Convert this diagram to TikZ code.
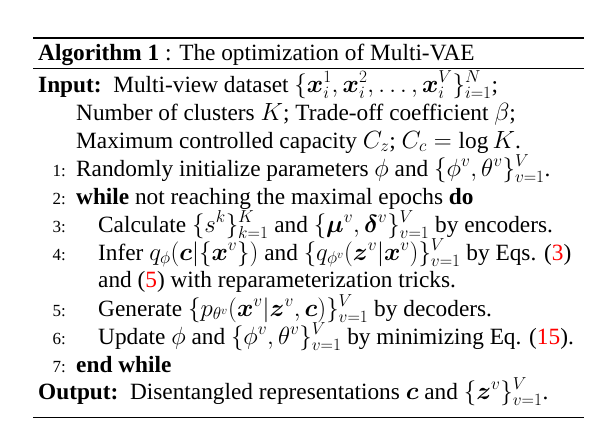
\documentclass[tikz,border=0pt]{standalone}
\usepackage{fontspec}
\usepackage{amsmath,bm}
\setmainfont{Liberation Serif}
\begin{document}
\begin{tikzpicture}[x=1pt,y=-1pt,
  txt/.style={anchor=base west,inner sep=0pt,font=\fontsize{23.3}{27}\selectfont},
  num/.style={anchor=base east,inner sep=0pt,font=\fontsize{17}{19}\selectfont},
  rl/.style={line width=0.9pt}]
\useasboundingbox (0,0) rectangle (614,434);
\coordinate (t1) at (33,38); \coordinate (t2) at (584,38);
\draw[line width=1.2pt] (t1) -- (t2);
\coordinate (m1) at (33,68); \coordinate (m2) at (584,68);
\draw[rl] (m1) -- (m2);
\coordinate (b1) at (33,417); \coordinate (b2) at (584,417);
\draw[rl] (b1) -- (b2);
\node[txt] (title) at (38,60) {\textbf{Algorithm 1} : The optimization of Multi-VAE};
\node[txt] (in1) at (38,92) {\textbf{Input:}\ \ Multi-view dataset $\{\bm{x}_i^1,\bm{x}_i^2,\ldots,\bm{x}_i^V\}_{i=1}^N$;};
\node[txt] (in2) at (76,120) {Number of clusters $K$; Trade-off coefficient $\beta$;};
\node[txt] (in3) at (76,148) {Maximum controlled capacity $C_z$; $C_c=\log K$.};
\node[num] (n1) at (66,176) {1:};
\node[txt] (l1) at (76,176) {Randomly initialize parameters $\phi$ and $\{\phi^v,\theta^v\}_{v=1}^V$.};
\node[num] (n2) at (66,204) {2:};
\node[txt] (l2) at (76,204) {\textbf{while} not reaching the maximal epochs \textbf{do}};
\node[num] (n3) at (66,232) {3:};
\node[txt] (l3) at (98,232) {Calculate $\{s^k\}_{k=1}^K$ and $\{\bm{\mu}^v,\bm{\delta}^v\}_{v=1}^V$ by encoders.};
\node[num] (n4) at (66,260) {4:};
\node[txt] (l4) at (98,260) {Infer $q_\phi(\bm{c}|\{\bm{x}^v\})$ and $\{q_{\phi^v}(\bm{z}^v|\bm{x}^v)\}_{v=1}^V$ by Eqs. (\textcolor{red}{3})};
\node[txt] (l4b) at (98,287) {and (\textcolor{red}{5}) with reparameterization tricks.};
\node[num] (n5) at (66,316) {5:};
\node[txt] (l5) at (98,316) {Generate $\{p_{\theta^v}(\bm{x}^v|\bm{z}^v,\bm{c})\}_{v=1}^V$ by decoders.};
\node[num] (n6) at (66,344) {6:};
\node[txt] (l6) at (98,344) {Update $\phi$ and $\{\phi^v,\theta^v\}_{v=1}^V$ by minimizing Eq. (\textcolor{red}{15}).};
\node[num] (n7) at (66,372) {7:};
\node[txt] (l7) at (76,372) {\textbf{end while}};
\node[txt] (out) at (38,399) {\textbf{Output:}\ \ Disentangled representations $\bm{c}$ and $\{\bm{z}^v\}_{v=1}^V$.};
\end{tikzpicture}
\end{document}
